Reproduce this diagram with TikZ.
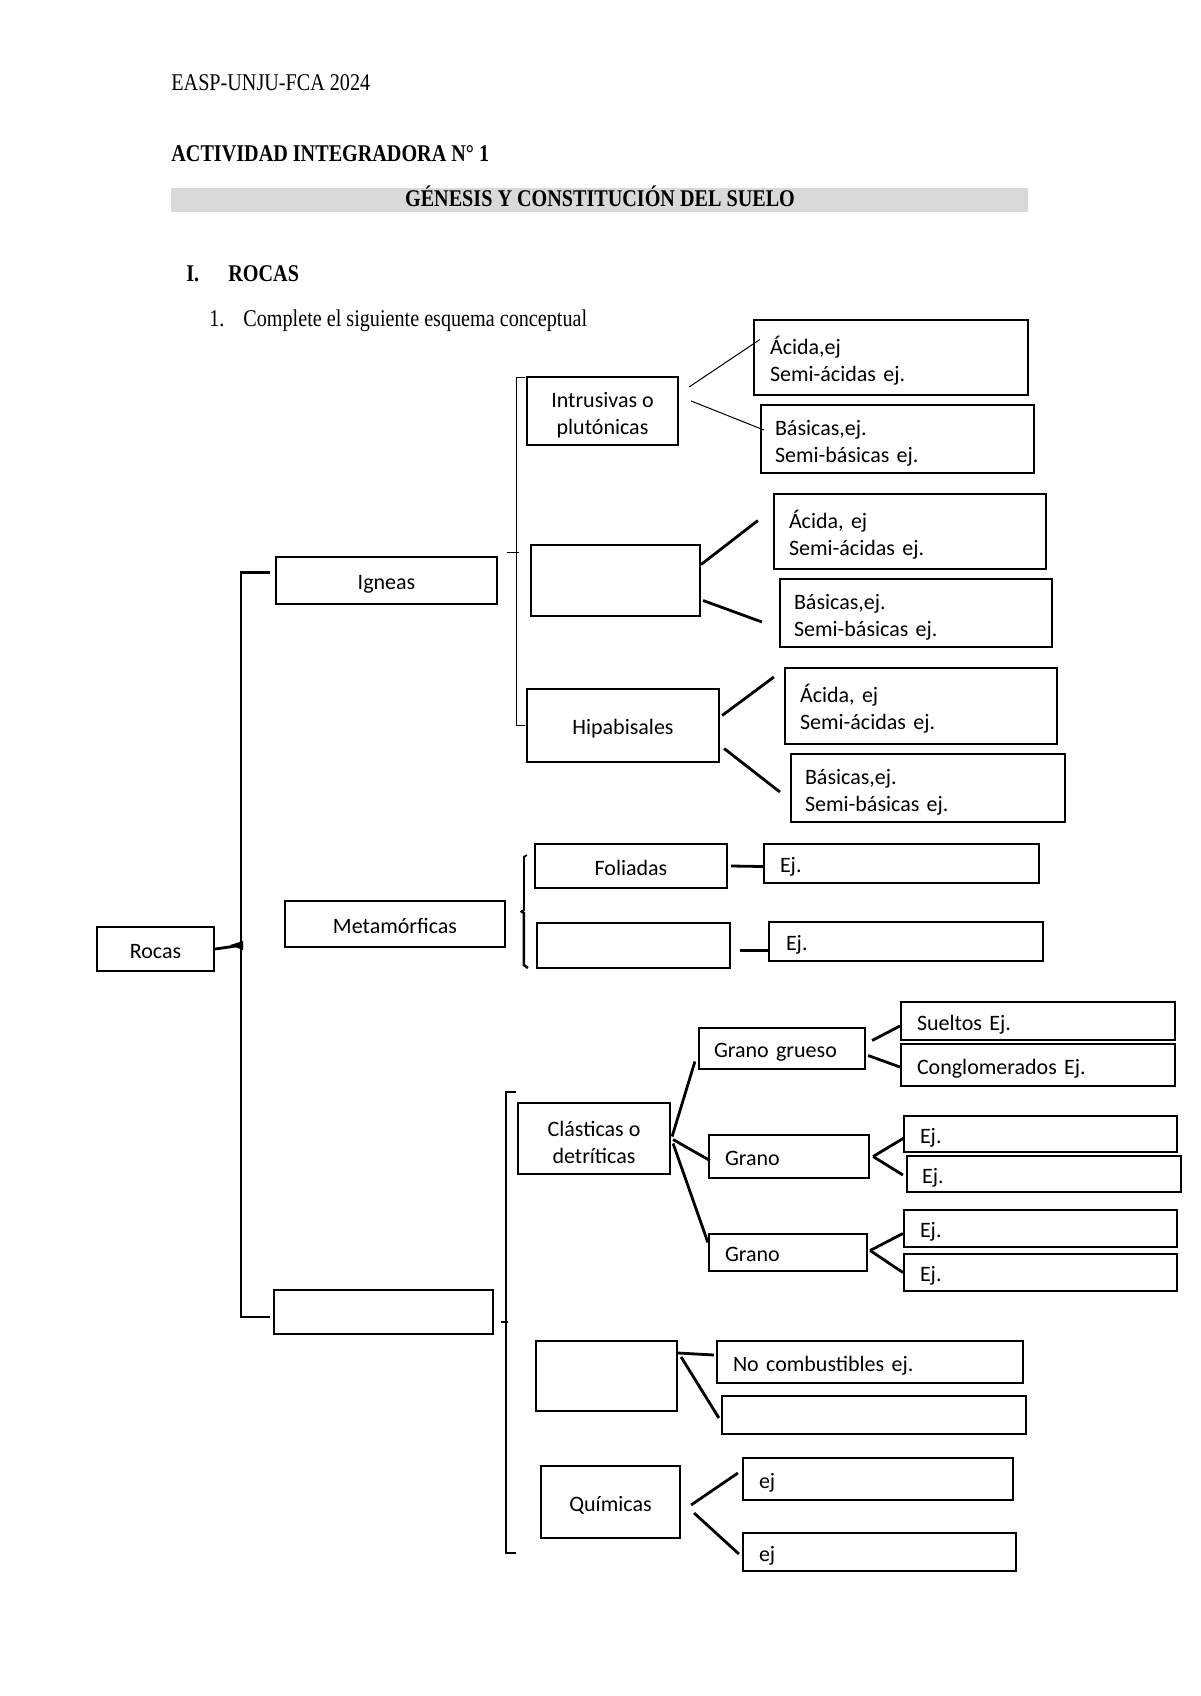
\documentclass[tikz,border=0pt]{standalone}
\usepackage{fontspec}
\setmainfont{Liberation Serif}
\newfontfamily\calfont{Carlito}
\usetikzlibrary{calc}
\tikzset{
  box/.style={draw, line width=1.1pt, inner sep=0pt, font=\calfont\fontsize{11}{13.5}\selectfont, align=center},
  conn/.style={line width=1.4pt},
  thinconn/.style={line width=0.5pt},
  brk/.style={line width=1.1pt},
  thinbrk/.style={line width=0.5pt},
  ttext/.style={anchor=base west, inner sep=0pt, font=\fontsize{12}{14}\selectfont},
}
\newcommand\bxstrut{\rule[-3pt]{0pt}{15pt}}
\newcommand\cbox[6]{%
  \pgfmathsetlengthmacro\bw{(#4-#2)*0.5pt}%
  \pgfmathsetlengthmacro\bh{(#5-#3)*0.5pt}%
  \node[box, minimum width=\bw, minimum height=\bh] (#1) at ({(#2+#4)/2},{(#3+#5)/2}) {#6};}
\newcommand\lbox[7]{%
  \pgfmathsetlengthmacro\bw{(#4-#2)*0.5pt}%
  \pgfmathsetlengthmacro\bh{(#5-#3)*0.5pt}%
  \pgfmathsetlengthmacro\tw{(#4-#2-2*#6)*0.5pt}%
  \pgfmathsetlengthmacro\ix{#6*0.5pt}%
  \node[box, align=left, minimum width=\bw, minimum height=\bh, text width=\tw, inner xsep=\ix] (#1) at ({(#2+#4)/2},{(#3+#5)/2}) {\bxstrut#7};}
\begin{document}
\begin{tikzpicture}[x=0.5pt,y=-0.5pt]
\useasboundingbox (0,0) rectangle (1200,1696);
\fill[white] (0,0) rectangle (1200,1696);

% header texts
\node[ttext] (hdr) at (171,91) {\scalebox{0.84}[1]{EASP-UNJU-FCA 2024}};
\node[ttext] (act) at (171,162) {\scalebox{0.84}[1]{\bfseries ACTIVIDAD INTEGRADORA N° 1}};
\fill[black!15] (171,188) rectangle (1028,212);
\node[anchor=base, inner sep=0pt, font=\fontsize{12}{14}\selectfont] (gen) at (600,207) {\scalebox{0.84}[1]{\bfseries GÉNESIS Y CONSTITUCIÓN DEL SUELO}};
\node[ttext] (rnum) at (186,281) {\scalebox{0.84}[1]{\bfseries I.}};
\node[ttext] (rocT) at (228,281) {\scalebox{0.84}[1]{\bfseries ROCAS}};
\node[ttext] (qnum) at (209,326) {\scalebox{0.84}[1]{1.}};
\node[ttext] (qtxt) at (243,326) {\scalebox{0.84}[1]{Complete el siguiente esquema conceptual}};

% boxes
\lbox{acid1}{754}{320}{1028}{395}{16}{Ácida,ej\\Semi-ácidas ej.}
\lbox{bas1}{761}{405}{1034}{473}{14}{Básicas,ej.\\Semi-básicas ej.}
\cbox{intr}{527}{377}{678}{445}{\bxstrut Intrusivas o\\plutónicas}
\lbox{acid2}{774}{494}{1046}{569}{15}{Ácida, ej\\Semi-ácidas ej.}
\lbox{bas2}{780}{579}{1052}{647}{14}{Básicas,ej.\\Semi-básicas ej.}
\cbox{efus}{531}{545}{700}{616}{}
\cbox{ign}{276}{557}{497}{604}{\bxstrut Igneas}
\cbox{hip}{527}{689}{719}{762}{\bxstrut Hipabisales}
\lbox{acid3}{785}{668}{1057}{744}{15}{Ácida, ej\\Semi-ácidas ej.}
\lbox{bas3}{791}{754}{1065}{822}{14}{Básicas,ej.\\Semi-básicas ej.}
\cbox{fol}{535}{844}{727}{888}{\bxstrut Foliadas}
\lbox{ej1}{764}{844}{1039}{883}{16}{Ej.}
\cbox{meta}{285}{901}{505}{947}{\bxstrut Metamórficas}
\cbox{nofol}{537}{923}{730}{968}{}
\lbox{ej2}{769}{922}{1043}{961}{17}{Ej.}
\cbox{rocas}{97}{927}{214}{971}{\bxstrut Rocas}
\lbox{suel}{901}{1002}{1175}{1040}{16}{Sueltos Ej.}
\lbox{cong}{901}{1044}{1175}{1086}{16}{Conglomerados Ej.}
\lbox{gg}{699}{1028}{865}{1069}{15}{Grano grueso}
\cbox{clas}{518}{1103}{670}{1174}{\bxstrut Clásticas o\\detríticas}
\lbox{gr1}{709}{1135}{869}{1178}{16}{Grano}
\lbox{eja}{904}{1116}{1177}{1152}{16}{Ej.}
\lbox{ejb}{907}{1156}{1181}{1192}{15}{Ej.}
\lbox{gr2}{709}{1234}{867}{1271}{16}{Grano}
\lbox{ejc}{904}{1210}{1177}{1247}{16}{Ej.}
\lbox{ejd}{904}{1254}{1177}{1291}{16}{Ej.}
\cbox{sed}{274}{1290}{493}{1334}{}
\cbox{org}{536}{1341}{677}{1411}{}
\lbox{nocomb}{717}{1341}{1023}{1383}{16}{No combustibles ej.}
\cbox{emp}{722}{1396}{1026}{1434}{}
\cbox{quim}{541}{1466}{680}{1538}{\bxstrut Químicas}
\lbox{ejq1}{743}{1458}{1013}{1500}{16}{ej}
\lbox{ejq2}{743}{1533}{1016}{1571}{16}{ej}

% Rocas bracket
\draw[brk] ($(ign.west)+(-5,-8)$) -- ++(-29,0) |- ($(sed.west)+(-3,5)$);
\draw[conn] (rocas.east) -- ++(28,-4) coordinate (rj);
\fill ($(rj)+(-13,0)$) -- ++(13,-4) -- ++(0,9) -- cycle;

% Igneas bracket (thin)
\draw[thinbrk] ($(intr.north west)+(-1,2)$) -- ++(-8,0) |- ($(hip.west)+(-1,0)$);
\draw[thinbrk] ($(ign.east)+(9,-28)$) -- ++(12,0);

% Metamorficas bracket
\draw[line width=0.9pt] ($(fol.west)+(-7,-11)$) -- ++(-3,2) -- ++(0,53) -- ++(-3,2);
\draw[line width=1.3pt] ($(fol.west)+(-13,45)$) -- ++(3,2) -- ++(0,52) -- ++(4,3);

% Sedimentarias bracket
\draw[brk] ($(clas.north west)+(-1,-10)$) -- ++(-10,0) |- ($(quim.south west)+(-24,14)$);
\draw[brk] ($(sed.east)+(7,10)$) -- ++(7,0);

% igneous connectors
\draw[thinconn] ($(intr.east)+(10,-24)$) -- ($(acid1.west)+(7,-18)$);
\draw[thinconn] ($(intr.east)+(12,-10)$) -- ($(bas1.west)+(4,-9)$);
\draw[conn] ($(efus.east)+(0,-16)$) -- ($(acid2.west)+(-15,-11)$);
\draw[conn] ($(efus.east)+(2,20)$) -- ($(bas2.west)+(-17,9)$);
\draw[conn] ($(hip.east)+(2,-10)$) -- ($(acid3.west)+(-10,-29)$);
\draw[conn] ($(hip.east)+(4,23)$) -- ($(bas3.west)+(-10,4)$);

% metamorphic connectors
\draw[conn] ($(fol.east)+(3,0)$) -- ($(ej1.west)+(0,3)$);
\draw[conn] ($(nofol.east)+(9,5)$) -- ($(ej2.west)+(0,9)$);

% sedimentary connectors
\draw[conn] ($(gg.east)+(6,-8)$) -- ($(suel.west)+(0,5)$);
\draw[conn] ($(gg.east)+(2,7)$) -- ($(cong.west)+(0,2)$);
\draw[conn] ($(clas.east)+(1,-2)$) -- ($(gg.west)+(-3,13)$);
\draw[conn] ($(clas.east)+(2,1)$) -- ($(gr1.west)+(2,4)$);
\draw[conn] ($(clas.east)+(2,5)$) -- ($(gr2.west)+(0,-10)$);
\draw[conn] ($(gr1.east)+(3,0)$) -- ($(eja.west)+(1,4)$);
\draw[conn] ($(gr1.east)+(3,0)$) -- ($(ejb.west)+(-3,1)$);
\draw[conn] ($(gr2.east)+(2,-2)$) -- ($(ejc.west)+(0,5)$);
\draw[conn] ($(gr2.east)+(2,-2)$) -- ($(ejd.west)+(0,0)$);
\draw[conn] ($(org.east)+(0,-23)$) -- ($(nocomb.west)+(-2,-7)$);
\draw[conn] ($(org.east)+(3,-19)$) -- ($(emp.west)+(-2,3)$);
\draw[conn] ($(quim.east)+(10,3)$) -- ($(ejq1.west)+(-4,-6)$);
\draw[conn] ($(quim.east)+(13,11)$) -- ($(ejq2.west)+(-3,2)$);
\end{tikzpicture}
\end{document}
